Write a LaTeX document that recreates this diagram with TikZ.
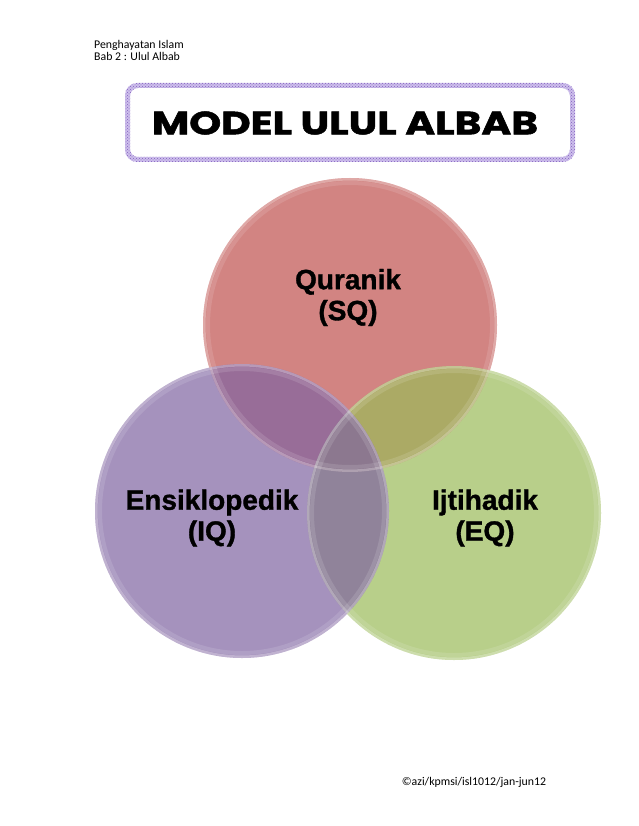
\documentclass[tikz,border=0pt]{standalone}
\usepackage{fontspec}
\usetikzlibrary{patterns}
\setmainfont{Carlito}
\newfontfamily\lblfont{Liberation Sans}[BoldFeatures={FakeBold=1.2}]
\newfontfamily\titlefont{Poppins}[BoldFeatures={FakeBold=1.5}]
\definecolor{cRed}{RGB}{192,80,77}
\definecolor{cGreen}{RGB}{155,187,89}
\definecolor{cPurple}{RGB}{128,100,162}
\definecolor{bLight}{RGB}{205,190,235}
\definecolor{bDark}{RGB}{130,95,190}
\tikzset{
  vcircle/.style={circle, minimum size=294pt, inner sep=0pt, fill opacity=0.7},
  lbl/.style={font=\lblfont\bfseries\fontsize{28}{31}\selectfont, align=center, text=black},
  small/.style={font=\fontsize{11.8}{12}\selectfont, inner sep=0pt, text=black},
}
\begin{document}
\begin{tikzpicture}[x=1pt,y=-1pt]
\useasboundingbox (0,0) rectangle (638,826);
\fill[white] (0,0) rectangle (638,826);
% header
\node[small, anchor=base west] (h1) at (94,49) {Penghayatan Islam};
\node[small, anchor=base west] (h2) at (94,61) {Bab 2 : Ulul Albab};
% title box
\fill[bLight, even odd rule, rounded corners=12pt] (125,83) rectangle (575,162) [rounded corners=8pt] (130,88) rectangle (570,157);
\fill[pattern=crosshatch dots, pattern color=bDark, even odd rule, rounded corners=12pt] (125,83) rectangle (575,162) [rounded corners=8pt] (130,88) rectangle (570,157);
\node[inner sep=0pt] (title) at (345,123) {\resizebox{386pt}{23pt}{\titlefont\bfseries MODEL ULUL ALBAB}};
% circles
\node[vcircle, fill=cRed] (sq) at (350,325) {};
\node[vcircle, fill=cGreen] (eq) at (454,513) {};
\node[vcircle, fill=cPurple] (iq) at (242,511) {};
\foreach \c in {sq,eq,iq}{
  \draw[white, opacity=0.3, line width=2.5pt] (\c.center) circle (145.7pt);
  \draw[white, opacity=0.12, line width=4pt] (\c.center) circle (142pt);
}
% labels
\node[lbl] (tsq) at (348,297.5) {Quranik\\(SQ)};
\node[lbl] (tiq) at (212,518) {Ensiklopedik\\(IQ)};
\node[lbl] (teq) at (485,518) {Ijtihadik\\(EQ)};
% footer
\node[small] (foot) at (474,782) {©azi/kpmsi/isl1012/jan-jun12};
\end{tikzpicture}
\end{document}
